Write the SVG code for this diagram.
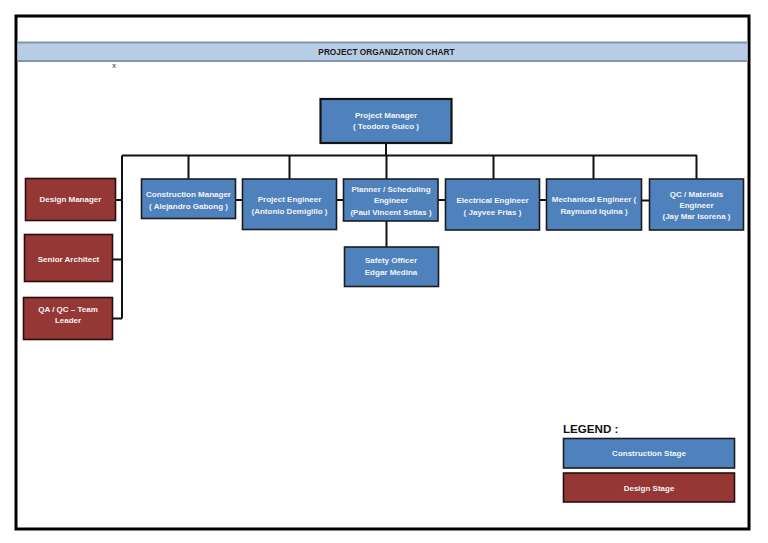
<svg xmlns="http://www.w3.org/2000/svg" width="768" height="543" viewBox="0 0 768 543">
<style>
.bg{fill:#ffffff}
.frame{fill:none;stroke:#000;stroke-width:3}
.band{fill:#b8cce4}
.bandline{stroke:#7f96b0;stroke-width:2}
.title{font-family:"Liberation Sans",Arial,sans-serif;font-weight:bold;font-size:8.3px;fill:#1a1a1a;text-anchor:middle}
.blue{fill:#4f81bd;stroke:#1c1c1c;stroke-width:1.6}
.red{fill:#953735;stroke:#2a0d0d;stroke-width:1.6}
.pm{fill:#4f81bd;stroke:#141414;stroke-width:2.2}
.t{font-family:"Liberation Sans",Arial,sans-serif;font-weight:bold;font-size:8px;fill:#f4f4f4;text-anchor:middle}
.conn{fill:none;stroke:#111;stroke-width:2}
.legend{font-family:"Liberation Sans",Arial,sans-serif;font-weight:bold;font-size:11.6px;fill:#111}
.mark{font-family:"Liberation Sans",Arial,sans-serif;font-size:7px;fill:#222;text-anchor:middle}
</style>
<rect class="bg" x="0" y="0" width="768" height="543"/>
<rect class="frame" x="16" y="16" width="733" height="513"/>
<g id="title">
<rect class="band" x="17.5" y="42.5" width="730" height="18.5"/>
<line class="bandline" x1="17.5" y1="42.5" x2="747.5" y2="42.5"/>
<line class="bandline" x1="17.5" y1="61" x2="747.5" y2="61"/>
<text class="title" x="386.5" y="54.5">PROJECT ORGANIZATION CHART</text>
</g>
<text class="mark" x="114" y="68">x</text>
<g id="connectors">
<path class="conn" d="M386 143V155.5M122 155.5H697M188.5 155.5V179M289.5 155.5V179M386.5 155.5V179M493.5 155.5V179M593.5 155.5V179M696.5 155.5V179"/>
<path class="conn" d="M122 155.5V318.5M115.5 200H122M112.5 259.5H122M112.5 318.5H122"/>
<path class="conn" d="M235.5 200H242.5M336.5 200H343.5M438 200H445.5M539.5 200H546.5M641.5 200.5H649.5"/>
<path class="conn" d="M386.5 221V247"/>
</g>
<g id="project-manager">
<rect class="pm" x="320.5" y="99" width="131" height="44"/>
<text class="t" x="386" y="117.5">Project Manager</text>
<text class="t" x="386" y="129">( Teodoro Guico )</text>
</g>
<g id="design-manager">
<rect class="red" x="25.5" y="178.5" width="90" height="42"/>
<text class="t" x="70.5" y="202">Design Manager</text>
</g>
<g id="senior-architect">
<rect class="red" x="24.5" y="234.5" width="88" height="47"/>
<text class="t" x="68.5" y="261.5">Senior Architect</text>
</g>
<g id="qa-qc-team-leader">
<rect class="red" x="23.5" y="297.5" width="89" height="42"/>
<text class="t" x="68" y="311.5">QA / QC – Team</text>
<text class="t" x="68" y="323">Leader</text>
</g>
<g id="construction-manager">
<rect class="blue" x="141.5" y="179" width="94" height="39.5"/>
<text class="t" x="188.5" y="197">Construction Manager</text>
<text class="t" x="188.5" y="208.5">( Alejandro Gabong )</text>
</g>
<g id="project-engineer">
<rect class="blue" x="242.5" y="179" width="94" height="50.5"/>
<text class="t" x="289.5" y="201.5">Project Engineer</text>
<text class="t" x="289.5" y="213.5">(Antonio Demigillo )</text>
</g>
<g id="planner-scheduling-engineer">
<rect class="blue" x="343.5" y="179" width="94.5" height="42"/>
<text class="t" x="391" y="191.5">Planner / Scheduling</text>
<text class="t" x="391" y="203">Engineer</text>
<text class="t" x="391" y="214.5">(Paul  Vincent Setias )</text>
</g>
<g id="electrical-engineer">
<rect class="blue" x="445.5" y="179" width="94" height="51"/>
<text class="t" x="492.5" y="203">Electrical Engineer</text>
<text class="t" x="492.5" y="214.5">( Jayvee Frias )</text>
</g>
<g id="mechanical-engineer">
<rect class="blue" x="546.5" y="179" width="95" height="51"/>
<text class="t" x="594" y="202">Mechanical Engineer  (</text>
<text class="t" x="594" y="213.5">Raymund Iquina )</text>
</g>
<g id="qc-materials-engineer">
<rect class="blue" x="649.5" y="179" width="94" height="51"/>
<text class="t" x="696.5" y="196.5">QC / Materials</text>
<text class="t" x="696.5" y="207.5">Engineer</text>
<text class="t" x="696.5" y="218.5">(Jay Mar Isorena )</text>
</g>
<g id="safety-officer">
<rect class="blue" x="344.5" y="247" width="94" height="39.5"/>
<text class="t" x="391" y="263">Safety Officer</text>
<text class="t" x="391" y="274.5">Edgar Medina</text>
</g>
<g id="legend">
<text class="legend" x="563" y="432.5">LEGEND :</text>
<rect class="blue" x="563.5" y="438.5" width="171" height="29.5"/>
<text class="t" x="649" y="456">Construction Stage</text>
<rect class="red" x="563.5" y="473" width="171" height="29"/>
<text class="t" x="649" y="491">Design Stage</text>
</g>
</svg>
